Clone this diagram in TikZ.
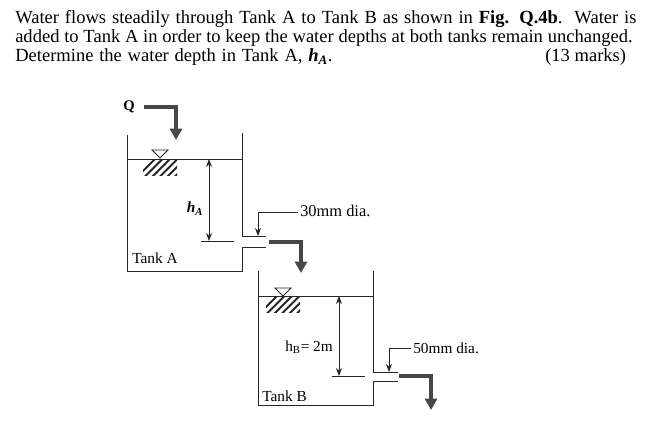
\documentclass[tikz,border=0pt]{standalone}
\usepackage{fontspec}
\setmainfont{Liberation Serif}
\usetikzlibrary{arrows.meta}
\tikzset{
  wall/.style={line width=0.65pt,draw=black!85},
  thin line/.style={line width=0.55pt,draw=black!85},
  dim/.style={line width=0.6pt,draw=black!85,{Stealth[length=6pt,width=4.5pt]}-{Stealth[length=6pt,width=4.5pt]}},
  leader/.style={line width=0.55pt,draw=black!85,-{Stealth[length=6pt,width=4.5pt]}},
  flow/.style={line width=2.5pt,draw=black!72,-{Triangle[length=8.5pt,width=9pt]}},
  qtext/.style={anchor=base west,inner sep=0pt,font=\fontsize{13.9pt}{15pt}\selectfont},
  lab/.style={anchor=base west,inner sep=0pt,font=\fontsize{11.5pt}{13pt}\selectfont},
  hatch/.style={line width=1.5pt,draw=black!85,line cap=butt},
}
\begin{document}
\begin{tikzpicture}[x=0.75pt,y=-0.75pt]
\useasboundingbox (0,0) rectangle (645,427);
% question text
\node[qtext] (t1) at (15,24) {\hbox to 466pt{Water flows steadily through Tank A to Tank B as shown in \textbf{Fig. Q.4b}.\ \ Water is}};
\node[qtext] (t2) at (15,43) {\hbox to 463pt{added to Tank A in order to keep the water depths at both tanks remain unchanged.}};
\node[qtext] (t3) at (15,62) {\hbox to 238pt{Determine the water depth in Tank A, \textbf{\textit{h\textsubscript{A}}}.}};
\node[qtext] (t4) at (545,62) {(13 marks)};
% Tank A
\draw[wall] (127,135) -- (127,271) -- (242,271) -- (242,247) -- (266,247);
\draw[wall] (242,133) -- (242,236) -- (266,236);
\draw[thin line] (127,159) -- (242,159);
\draw[thin line] (201,241) -- (234,241);
\draw[thin line] (152,150) -- (168,150) -- (160,158) -- cycle;
\begin{scope}
\clip (143,160) rectangle (177,176);
\foreach \i in {0,...,6} \draw[hatch] ({136+\i*7.5},178) -- ({136+\i*7.5+20},158);
\end{scope}
\coordinate (aTop) at (209,159); \coordinate (aBot) at (209,241);
\draw[dim] (aTop) -- (aBot);
\node[lab,anchor=base,font=\fontsize{11.5pt}{13pt}\selectfont\bfseries\itshape] (hA) at (195,213) {h\textsubscript{A}};
\node[lab] (tA) at (132,264) {Tank A};
\node[lab,font=\fontsize{12.3pt}{13pt}\selectfont] (d30) at (300,217) {30mm dia.};
\coordinate (l30a) at (258,236);
\coordinate (l30b) at (298,212);
\draw[leader] (l30b) -- (258,212) -- (l30a);
\node[inner sep=0pt,anchor=base west,font=\bfseries\fontsize{11pt}{12pt}\selectfont] (Q) at (123,111) {Q};
\coordinate (q1) at (144,107); \coordinate (q2) at (176,140);
\draw[flow] (q1) -| (q2);
\coordinate (oa1) at (269,242); \coordinate (oa2) at (301,273);
\draw[flow] (oa1) -| (oa2);
% Tank B
\draw[wall] (258,271) -- (258,405) -- (373,405) -- (373,381) -- (398,381);
\draw[wall] (373,271) -- (373,372) -- (398,372);
\draw[thin line] (258,296) -- (373,296);
\draw[thin line] (332,376) -- (365,376);
\draw[thin line] (275,288) -- (291,288) -- (283,296) -- cycle;
\begin{scope}
\clip (266,297) rectangle (300,312);
\foreach \i in {0,...,6} \draw[hatch] ({259+\i*7.5},314) -- ({259+\i*7.5+20},294);
\end{scope}
\coordinate (bTop) at (339,296); \coordinate (bBot) at (339,376);
\draw[dim] (bTop) -- (bBot);
\node[lab] (hB) at (285,351) {h\textsubscript{B}= 2m};
\node[lab] (tB) at (262,401) {Tank B};
\node[lab] (d50) at (413,353) {50mm dia.};
\coordinate (l50a) at (389,372);
\coordinate (l50b) at (411,348);
\draw[leader] (l50b) -- (389,348) -- (l50a);
\coordinate (ob1) at (399,376); \coordinate (ob2) at (431,410);
\draw[flow] (ob1) -| (ob2);
\end{tikzpicture}
\end{document}
